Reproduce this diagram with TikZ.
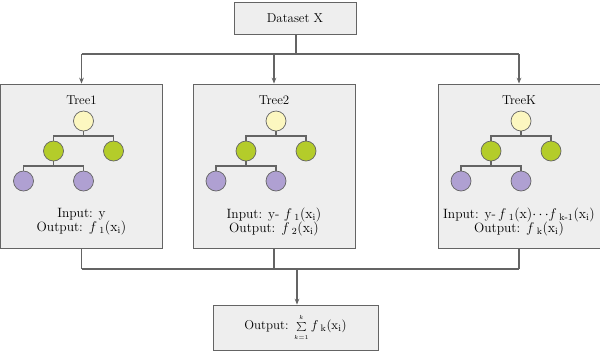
\documentclass[tikz,border=0pt]{standalone}
\usepackage{amsmath}
\usepackage{tikz}
\usetikzlibrary{arrows.meta, calc, positioning}
\definecolor{boxgray}{RGB}{238, 238, 238}
\definecolor{linegray}{RGB}{100, 100, 100}
\definecolor{rootyellow}{RGB}{252, 247, 192}
\definecolor{leafgreen}{RGB}{180, 204, 42}
\definecolor{leafpurple}{RGB}{175, 160, 210}

\tikzset{
  panel/.style={draw=linegray, fill=boxgray, line width=0.8pt, inner sep=0pt},
  treenode/.style={circle, draw=linegray, line width=0.6pt, minimum size=0.6cm, inner sep=0pt},
  wire/.style={draw=linegray, line width=0.9pt},
  flow/.style={wire, -{Stealth[length=5pt, width=4pt]}},
  label/.style={font=\fontsize{11}{13}\selectfont, align=center}
}

\begin{document}
\begin{tikzpicture}[x=0.03cm, y=-0.03cm]
  \useasboundingbox (0,0) rectangle (600,351);
  % data and output boxes
  \node[panel, minimum width=3.66cm, minimum height=0.96cm, label] (data) at (295,18) {Dataset X};
  \node[panel, minimum width=4.95cm, minimum height=1.35cm, label] (out) at (295.5,327.5)
    {Output: $\mathop{\scriptstyle\sum}\limits_{\scriptscriptstyle k=1}^{\scriptscriptstyle k} f\,_{\mathrm{k}}(\mathrm{x}_{\mathrm{i}})$};
  % the trees
  \foreach \i/\cx/\name/\inp/\outp in {
      1/81.5/Tree1/{Input: y}/{Output: $f\,_{1}(\mathrm{x}_{\mathrm{i}})$},
      2/274/Tree2/{Input: y- $f\,_{1}(\mathrm{x}_{\mathrm{i}})$}/{Output: $f\,_{2}(\mathrm{x}_{\mathrm{i}})$},
      3/519/TreeK/{Input: y-\,$f\,_{1}(\mathrm{x})\!\cdots\! f\,_{\mathrm{k}\text{-}1}(\mathrm{x}_{\mathrm{i}})$}/{Output: $f\,_{\mathrm{k}}(\mathrm{x}_{\mathrm{i}})$}}{
    \node[panel, minimum width=4.86cm, minimum height=4.92cm] (tree\i) at (\cx,166) {};
    \node[label] (title\i) at (\cx,100) {\name};
    \node[treenode, fill=rootyellow] (root\i) at (\cx+2,121) {};
    \node[treenode, fill=leafgreen] (ga\i) at (\cx-28,151) {};
    \node[treenode, fill=leafgreen] (gb\i) at (\cx+32,151) {};
    \node[treenode, fill=leafpurple] (pa\i) at (\cx-58,181) {};
    \node[treenode, fill=leafpurple] (pb\i) at (\cx+2,181) {};
    \coordinate (ja\i) at (\cx+2,136);
    \coordinate (jb\i) at (\cx-28,166);
    \draw[wire] (root\i.south) -- (ja\i) -| (ga\i.north);
    \draw[wire] (ja\i) -| (gb\i.north);
    \draw[wire] (ga\i.south) -- (jb\i) -| (pa\i.north);
    \draw[wire] (jb\i) -| (pb\i.north);
    \node[label, font=\fontsize{11.5}{13}\selectfont] (io\i) at (\cx,222) {\inp\\[-1pt] \outp};
  }
  % connectors
  \coordinate (split) at (296,54);
  \coordinate (merge) at (297,269);
  \draw[wire] (data.south -| split) -- (split);
  \draw[wire] (tree1.north |- split) -- (tree3.north |- split);
  \foreach \i in {1,2,3}{
    \draw[flow] (tree\i.north |- split) -- (tree\i.north);
    \draw[wire] (tree\i.south) -- (tree\i.south |- merge);
  }
  \draw[wire] (tree1.south |- merge) -- (tree3.south |- merge);
  \draw[flow] (merge) -- (out.north -| merge);
\end{tikzpicture}
\end{document}
